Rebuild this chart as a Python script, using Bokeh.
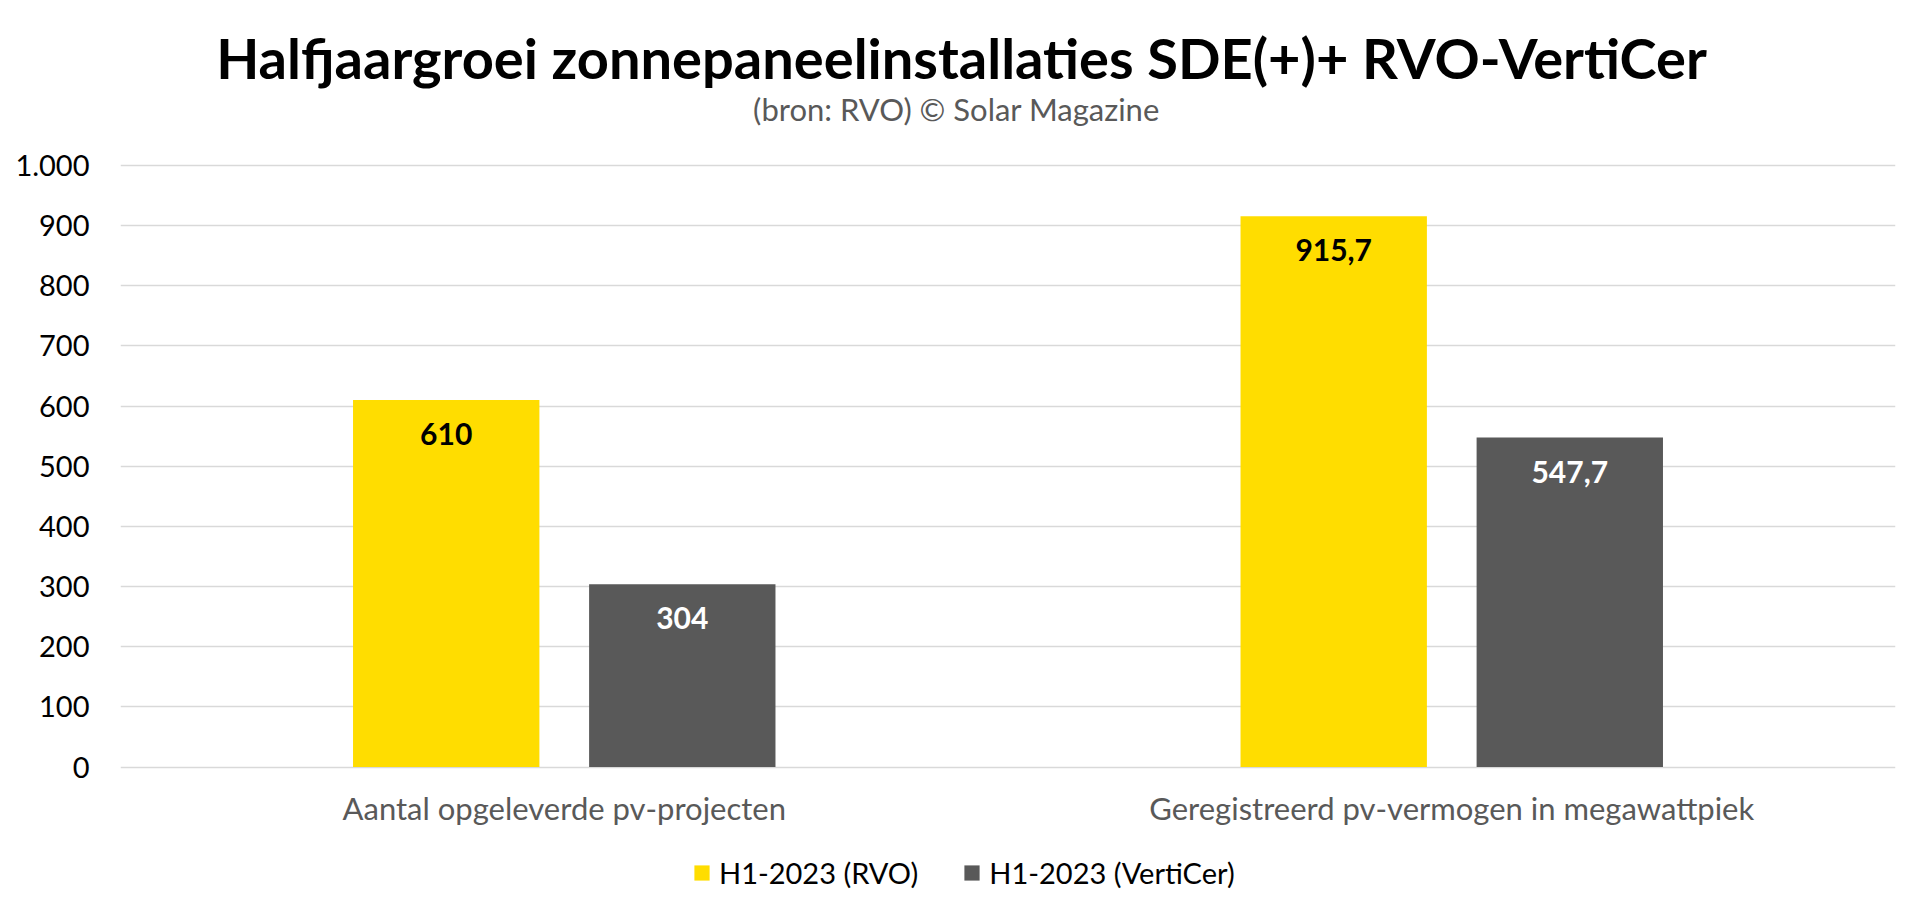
from bokeh.plotting import figure
from bokeh.models import (ColumnDataSource, Range1d, FixedTicker, LabelSet, Label,
                          Legend, LegendItem)
from bokeh.core.properties import value
from bokeh.transform import dodge
from bokeh.embed import file_html
from bokeh.resources import INLINE

categories = ["Aantal opgeleverde pv-projecten", "Geregistreerd pv-vermogen in megawattpiek"]
series = ["H1-2023 (RVO)", "H1-2023 (VertiCer)"]
rvo = [610, 915.7]
verticer = [304, 547.7]
y_ticks = [0, 100, 200, 300, 400, 500, 600, 700, 800, 900, 1000]

title = "Halfjaargroei zonnepaneelinstallaties SDE(+)+ RVO-VertiCer"
subtitle = "(bron: RVO)  \u00a9 Solar Magazine"

YELLOW = "#FFDD00"
DARK = "#595959"
GRID = "#D9D9D9"
FONT = "Lato"


def fmt(v):
    return ("%g" % v).replace(".", ",")


src = ColumnDataSource(dict(
    cat=categories,
    zero=[0] * len(categories),
    rvo=rvo,
    verticer=verticer,
    rvo_txt=[fmt(v) for v in rvo],
    ver_txt=[fmt(v) for v in verticer],
))

# the frame fills the whole height so title, category names and legend can sit in it;
# the value axis itself runs 0..1000
W, H = 1904, 898
p = figure(x_range=categories, y_range=Range1d(-218.6, 1274.3),
           width=W, height=H, output_backend="svg", toolbar_location=None,
           min_border_left=120, min_border_right=9, min_border_top=0, min_border_bottom=0)

r1 = p.vbar(x=dodge("cat", -0.133, range=p.x_range), top="rvo", width=0.21,
            source=src, fill_color=YELLOW, line_color=None)
r2 = p.vbar(x=dodge("cat", 0.133, range=p.x_range), top="verticer", width=0.21,
            source=src, fill_color=DARK, line_color=None)

# value labels inside the top of the bars
p.add_layout(LabelSet(x=dodge("cat", -0.133, range=p.x_range), y="rvo", text="rvo_txt",
                      source=src, y_offset=-34, text_align="center", text_baseline="middle",
                      text_font=value(FONT), text_font_style="bold", text_font_size="30px",
                      text_color="black"))
p.add_layout(LabelSet(x=dodge("cat", 0.133, range=p.x_range), y="verticer", text="ver_txt",
                      source=src, y_offset=-34, text_align="center", text_baseline="middle",
                      text_font=value(FONT), text_font_style="bold", text_font_size="30px",
                      text_color="white"))

# category names under the zero line
p.add_layout(LabelSet(x="cat", y="zero", text="cat", source=src, y_offset=-41,
                      text_align="center", text_baseline="middle",
                      text_font=value(FONT), text_font_size="31px", text_color=DARK))

# title + subtitle
p.add_layout(Label(x=841, y=H - 57, x_units="screen", y_units="screen", text=title,
                   text_align="center", text_baseline="alphabetic",
                   text_font=FONT, text_font_style="bold", text_font_size="56px",
                   text_color="black"))
p.add_layout(Label(x=840, y=H - 108, x_units="screen", y_units="screen", text=subtitle,
                   text_align="center", text_baseline="alphabetic",
                   text_font=FONT, text_font_size="31px", text_color=DARK))

# axes
p.xaxis.visible = False
p.yaxis.ticker = FixedTicker(ticks=y_ticks)
p.yaxis.major_label_overrides = {1000: "1.000"}
p.yaxis.axis_line_color = None
p.yaxis.major_tick_line_color = None
p.yaxis.minor_tick_line_color = None
p.yaxis.major_label_standoff = 25
p.yaxis.major_label_text_font = FONT
p.yaxis.major_label_text_font_size = "29px"
p.yaxis.major_label_text_color = "black"

p.xgrid.grid_line_color = None
p.ygrid.grid_line_color = GRID
p.ygrid.grid_line_width = 1.5
p.outline_line_color = None

legend = Legend(items=[LegendItem(label=series[0], renderers=[r1]),
                       LegendItem(label=series[1], renderers=[r2])],
                orientation="horizontal", location=(572, 8),
                glyph_width=19, glyph_height=19, label_standoff=8, spacing=44,
                padding=0, margin=0, border_line_color=None, background_fill_alpha=0,
                label_text_font=FONT, label_text_font_size="29px", label_text_color="black")
p.add_layout(legend)

open("out.html", "w").write(file_html(p, INLINE))
